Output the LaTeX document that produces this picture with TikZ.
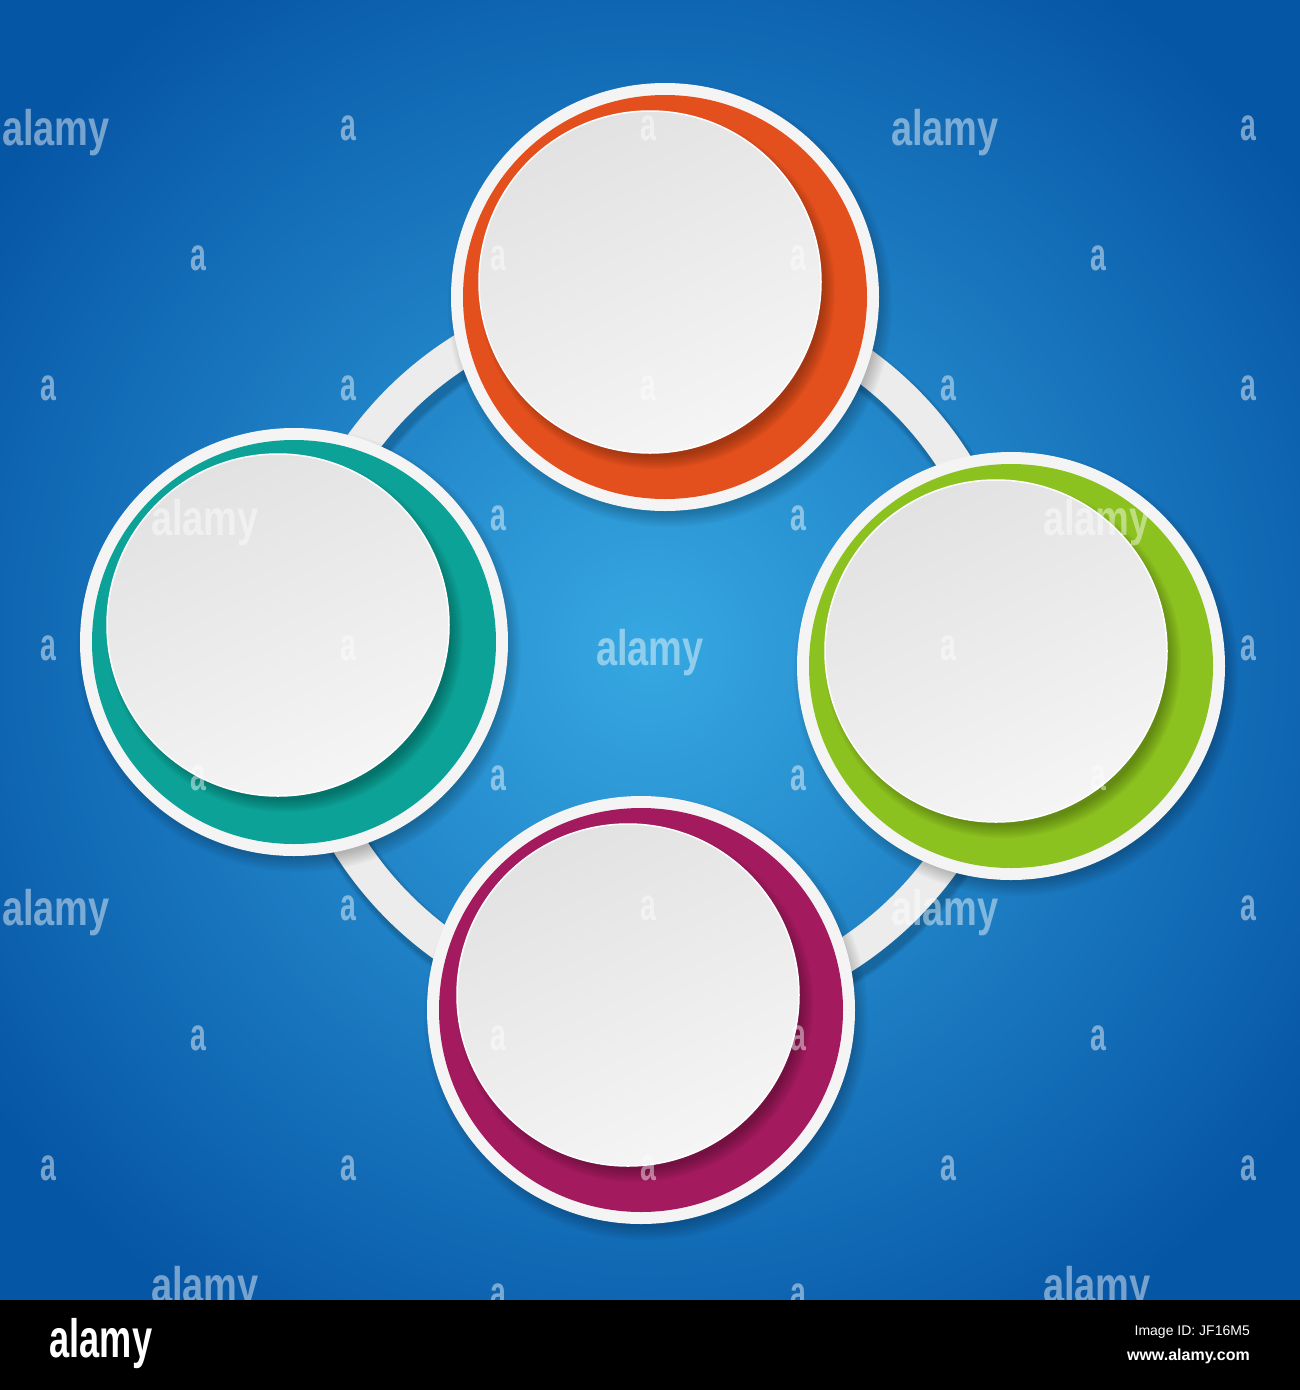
\documentclass[tikz,border=0pt]{standalone}
\usepackage{fontspec}
\setmainfont{Liberation Sans}
\usetikzlibrary{calc}
\definecolor{bgin}{HTML}{36A8E2}
\definecolor{bgout}{HTML}{0656A6}
\definecolor{rim}{HTML}{F4F4F4}
\definecolor{ringc}{HTML}{ECECEC}
\definecolor{corange}{HTML}{E4501D}
\definecolor{cteal}{HTML}{0CA297}
\definecolor{cgreen}{HTML}{8CC21F}
\definecolor{cmag}{HTML}{A31A5E}
\definecolor{diskA}{HTML}{E2E2E2}
\definecolor{diskB}{HTML}{F5F5F5}
\tikzset{
  wmbig/.style={text=white, text opacity=0.45, font=\fontsize{50}{54}\selectfont\bfseries, xscale=0.76, inner sep=0pt},
  wmsmall/.style={text=white, text opacity=0.45, font=\fontsize{46}{50}\selectfont\bfseries, xscale=0.62, inner sep=0pt},
  logo/.style={text=white, font=\fontsize{54}{58}\selectfont\bfseries, xscale=0.67, inner sep=0pt},
  smalltxt/.style={text=white, inner sep=0pt, anchor=east}
}
\newcommand{\mybubble}[5]{%
  \begin{scope}[shift={(#1,#2)}]
    \foreach \k in {1,...,8} \fill[black, opacity=0.03] (5,8) circle[radius=206+2*\k];
    \fill[rim] (0,0) circle[radius=214];
    \fill[#5] (0,0) circle[radius=202];
    \begin{scope}
      \clip (0,0) circle[radius=202];
      \foreach \k in {1,...,7} \fill[black, opacity=0.045] ({#3+7},{#4+9}) circle[radius=164+2*\k];
    \end{scope}
    \shade[top color=diskA, bottom color=diskB, shading angle=25] (#3,#4) circle[radius=171];
    \draw[white, line width=1.5pt] (#3,#4) circle[radius=171];
  \end{scope}}
\begin{document}
\begin{tikzpicture}[x=1pt, y=-1pt]
  \useasboundingbox (0,0) rectangle (1300,1390);
  % background
  \shade[inner color=bgin, outer color=bgout] (-150,-150) rectangle (1450,1450);
  % connecting ring
  \coordinate (hub) at (652,654);
  \foreach \k in {1,...,5} \draw[black, opacity=0.04, line width={34+2*\k}] ($(hub)+(4,7)$) circle[radius=358];
  \draw[ringc, line width=34pt] (hub) circle[radius=358];
  % bubbles
  \coordinate (ctop) at (665,297);
  \coordinate (cleft) at (294,642);
  \coordinate (cright) at (1011,666);
  \coordinate (cbottom) at (641,1010);
  \mybubble{294}{642}{-16}{-17}{cteal}
  \mybubble{665}{297}{-15}{-15}{corange}
  \mybubble{1011}{666}{-15}{-15}{cgreen}
  \mybubble{641}{1010}{-13}{-15}{cmag}
  % watermarks
  \foreach \x/\y [count=\i] in {348/128,648/128,1248/128,
     48/388,348/388,648/388,948/388,1248/388,
     48/648,348/648,948/648,1248/648,
     348/908,648/908,1248/908,
     48/1168,348/1168,648/1168,948/1168,1248/1168,
     198/258,498/258,798/258,1098/258,
     498/518,798/518,
     198/778,498/778,798/778,1098/778,
     198/1038,498/1038,798/1038,1098/1038,
     498/1296,798/1296}
    \node[wmsmall] (wa\i) at (\x,\y) {a};
  \foreach \x/\y [count=\i] in {56/133,945/133,205/523,1097/523,650/653,56/913,945/913,205/1290,1097/1290}
    \node[wmbig] (wb\i) at (\x,\y) {alamy};
  % bottom bar
  \fill[black] (0,1300) rectangle (1300,1390);
  \node[logo] (logo) at (101,1344) {alamy};
  \node[smalltxt, font=\fontsize{14}{16}\selectfont] (imgid) at (1250,1332) {Image ID: JF16M5};
  \node[smalltxt, font=\fontsize{16}{18}\selectfont\bfseries] (www) at (1250,1356) {www.alamy.com};
\end{tikzpicture}
\end{document}
